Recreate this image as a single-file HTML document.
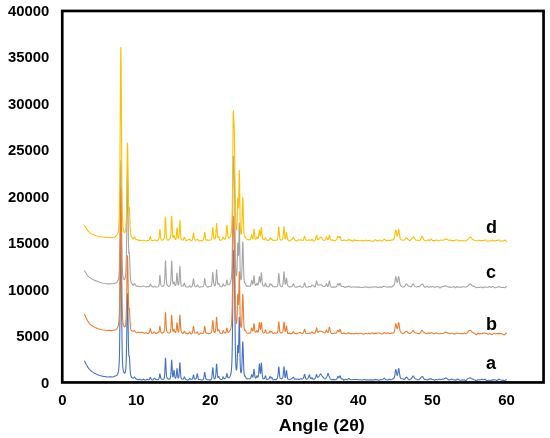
<!DOCTYPE html>
<html><head><meta charset="utf-8"><style>
html,body{margin:0;padding:0;background:#fff;}
svg{display:block;filter:blur(0.3px);}
.t{font-family:"Liberation Sans",Arial,sans-serif;font-weight:bold;fill:#000;}
</style></head><body>
<svg width="550" height="438" viewBox="0 0 550 438">
<rect width="550" height="438" fill="#fff"/>
<g fill="none" stroke-width="1.1" stroke-linejoin="round" stroke-linecap="round">
<path d="M84.51 361.01L86.16 364.24 87.96 367.38 88.81 368.63 89.96 369.90 90.81 370.68 91.91 371.54 93.11 372.38 94.46 373.22 96.11 374.10 98.91 375.25 99.86 375.53 101.76 375.94 103.16 376.36 104.71 376.50 106.61 376.90 107.36 376.94 110.76 376.85 112.21 376.94 112.81 376.91 113.71 376.66 114.96 376.08 116.16 375.65 116.71 375.32 117.16 374.85 117.51 374.29 117.86 373.50 118.16 372.54 118.46 371.19 118.71 369.51 119.06 365.33 119.31 359.58 119.56 349.41 119.96 318.63 120.61 240.08 120.76 229.71 120.86 227.86 120.96 230.47 121.11 241.73 121.66 309.44 121.96 337.40 122.31 356.09 122.51 361.86 122.76 366.14 123.06 369.01 123.41 370.96 123.91 372.55 124.16 372.98 124.41 373.19 124.66 373.18 124.91 372.97 125.16 372.50 125.36 371.88 125.66 370.20 125.91 367.48 126.21 361.16 126.46 351.89 127.26 300.54 127.41 294.78 127.51 293.76 127.61 295.22 127.76 301.48 128.41 343.30 128.56 349.51 128.76 354.48 128.96 356.25 129.06 356.32 129.21 356.08 129.26 356.06 129.31 356.13 129.46 357.12 130.16 370.05 130.36 372.61 130.61 374.65 130.91 375.98 131.26 376.84 131.81 377.60 132.11 377.84 132.46 378.02 133.06 378.15 133.51 378.06 133.81 377.82 134.31 377.12 134.51 377.03 134.71 377.21 135.21 378.09 135.56 378.51 136.66 379.27 137.31 379.58 138.06 379.64 139.21 379.38 139.61 379.37 140.01 379.50 140.91 379.97 141.41 380.05 142.01 379.90 143.06 379.40 143.51 379.32 143.91 379.43 144.81 379.94 145.31 380.03 145.76 379.94 146.86 379.45 147.31 379.35 147.71 379.41 148.61 379.82 149.01 379.79 149.26 379.58 149.46 379.28 150.11 377.63 150.31 377.39 150.51 377.57 151.01 378.73 151.31 379.24 151.76 379.68 152.26 379.94 152.66 379.96 153.06 379.73 153.51 379.25 154.16 378.33 154.46 378.12 154.71 378.28 155.36 379.16 155.71 379.41 157.16 379.74 157.81 379.76 158.21 379.62 158.51 379.41 158.71 379.16 158.91 378.74 159.26 377.30 159.71 374.38 159.81 373.97 159.91 373.83 160.01 374.01 160.11 374.44 160.66 377.72 160.86 378.39 161.06 378.77 161.41 379.04 162.16 379.19 163.11 379.26 163.66 379.12 163.96 378.82 164.21 378.22 164.41 377.21 164.56 375.91 164.86 371.19 165.31 360.24 165.41 358.65 165.51 358.11 165.61 358.73 165.71 360.35 166.21 371.77 166.56 376.01 166.81 377.28 167.11 378.01 167.76 378.80 168.11 379.07 168.41 379.21 168.76 379.26 169.16 379.18 169.56 378.97 169.91 378.66 170.31 377.99 170.61 376.78 170.96 373.16 171.51 361.85 171.61 360.49 171.71 360.08 171.81 360.73 171.91 362.27 172.41 372.84 172.56 374.86 172.76 376.44 172.86 376.81 172.96 376.95 173.06 376.87 173.21 376.36 173.41 375.02 173.81 371.13 173.91 370.49 174.01 370.29 174.11 370.56 174.21 371.25 174.81 376.65 175.06 377.69 175.21 378.00 175.41 378.18 175.61 378.16 175.81 377.92 176.11 376.86 176.36 374.90 176.81 369.57 176.91 368.81 177.01 368.58 177.16 369.33 177.61 374.70 177.91 377.06 178.11 377.78 178.31 378.02 178.51 377.90 178.71 377.42 178.91 376.40 179.11 374.55 179.71 364.18 179.81 363.01 179.91 362.65 180.06 363.79 180.56 373.04 180.86 376.59 181.01 377.58 181.21 378.36 181.46 378.83 181.81 379.06 183.06 379.19 183.41 379.05 183.71 378.58 184.21 377.14 184.41 376.87 184.61 377.11 185.11 378.51 185.46 379.13 185.91 379.47 186.81 379.80 187.76 379.96 188.11 379.92 188.46 379.78 188.86 379.44 189.51 378.40 189.71 378.26 189.91 378.37 190.36 378.98 190.66 379.21 190.96 379.28 192.21 379.25 192.46 379.01 192.71 378.37 193.31 375.28 193.41 374.94 193.51 374.83 193.61 374.97 193.71 375.33 194.16 377.77 194.41 378.69 194.71 379.16 194.91 379.22 195.11 379.18 195.91 378.71 196.11 378.46 196.31 378.05 196.61 376.92 197.11 374.13 197.26 373.76 197.36 373.84 197.51 374.44 198.11 378.17 198.31 378.88 198.56 379.35 198.86 379.52 199.91 379.54 201.51 379.96 201.96 379.99 202.36 379.92 202.86 379.69 203.21 379.41 203.46 379.03 203.66 378.51 204.01 376.75 204.51 372.89 204.61 372.42 204.71 372.27 204.81 372.47 204.91 372.97 205.56 377.60 205.81 378.53 206.06 379.01 206.46 379.35 207.16 379.60 208.51 379.80 209.71 380.12 210.06 380.12 210.36 380.05 210.86 379.75 211.21 379.35 211.51 378.69 211.71 377.91 212.06 375.30 212.61 368.62 212.71 367.89 212.81 367.68 212.91 368.02 213.01 368.85 213.46 374.48 213.76 377.12 213.91 377.89 214.11 378.49 214.36 378.80 214.66 378.82 214.96 378.58 215.21 378.10 215.41 377.39 215.61 376.18 215.91 373.00 216.41 365.31 216.51 364.39 216.61 364.11 216.71 364.53 216.81 365.55 217.46 374.97 217.71 376.77 217.96 377.47 218.06 377.53 218.21 377.42 218.61 376.65 218.71 376.53 218.81 376.52 219.01 376.85 219.51 378.27 219.81 378.74 221.21 379.48 221.61 379.56 221.91 379.43 222.21 379.06 222.51 378.40 222.96 377.09 223.11 376.82 223.21 376.77 223.41 377.02 223.81 378.08 224.06 378.57 224.31 378.78 224.61 378.76 225.61 378.11 225.91 377.70 226.21 376.73 226.71 374.00 226.81 373.65 226.91 373.52 227.01 373.65 227.11 374.01 227.66 376.81 227.96 377.57 228.26 377.82 228.71 377.85 229.16 377.68 229.56 377.31 230.06 376.43 230.51 375.18 230.91 373.56 231.21 371.83 231.46 369.71 231.66 367.12 231.96 360.25 232.21 349.69 232.46 332.64 233.16 261.22 233.31 252.73 233.36 251.35 233.41 250.67 233.46 250.62 233.56 252.01 233.91 261.45 234.21 267.00 234.36 271.72 234.56 283.71 235.31 345.46 235.66 360.64 235.86 365.32 236.06 368.07 236.26 369.51 236.41 369.97 236.51 370.00 236.71 369.30 236.91 367.30 237.16 362.29 237.61 348.27 237.76 345.49 237.81 345.21 237.91 345.68 238.31 352.41 238.36 352.68 238.41 352.66 238.51 351.61 238.76 342.82 239.16 319.97 239.26 317.39 239.31 317.23 239.51 324.00 240.11 360.60 240.36 367.87 240.61 371.19 240.86 372.52 241.01 372.81 241.16 372.81 241.31 372.48 241.41 372.03 241.66 369.80 242.01 362.92 242.61 343.96 242.71 342.21 242.81 341.70 242.91 342.53 243.06 345.93 243.71 366.92 243.91 370.88 244.11 373.44 244.31 374.95 244.56 375.88 244.81 376.17 245.21 376.11 245.41 376.24 246.16 378.25 246.36 378.59 246.61 378.81 246.96 378.86 248.01 378.69 249.66 378.79 250.06 378.72 250.36 378.55 250.61 378.25 250.86 377.69 251.51 375.03 251.71 374.65 251.81 374.72 251.91 374.95 252.46 376.81 252.66 377.07 252.81 377.01 253.01 376.51 253.21 375.46 253.81 369.98 253.91 369.41 254.01 369.24 254.11 369.52 254.21 370.18 254.81 375.87 255.01 377.00 255.26 377.79 255.41 378.03 255.61 378.18 255.81 378.16 255.96 378.03 256.26 377.46 256.71 376.09 256.91 375.79 257.01 375.82 257.11 375.97 257.61 377.09 257.81 377.26 257.96 377.21 258.11 376.95 258.26 376.45 258.56 374.35 259.16 365.76 259.36 363.97 259.41 363.91 259.46 364.02 259.56 364.71 260.11 372.11 260.26 373.21 260.36 373.50 260.41 373.51 260.51 373.25 260.66 372.18 261.21 364.25 261.31 363.32 261.41 363.05 261.51 363.51 261.61 364.60 262.06 372.12 262.31 375.25 262.61 377.37 262.81 378.09 263.06 378.57 263.31 378.79 263.66 378.85 264.06 378.72 264.36 378.48 264.71 377.89 265.26 376.22 265.46 375.91 265.56 375.97 265.66 376.19 266.36 378.69 266.61 379.13 266.86 379.35 267.26 379.44 267.76 379.37 268.36 379.17 268.81 378.88 269.21 378.38 269.86 376.82 270.01 376.59 270.11 376.56 270.31 376.83 270.71 377.79 270.91 378.04 271.01 378.06 271.16 377.97 271.61 377.38 271.71 377.36 271.81 377.43 272.71 379.27 273.11 379.71 273.51 379.87 273.81 379.81 274.51 379.38 274.86 379.28 275.16 379.37 275.86 379.79 276.21 379.77 276.66 379.26 277.31 377.97 277.66 376.90 277.91 375.51 278.16 373.21 278.61 367.81 278.71 367.11 278.81 366.93 279.01 368.17 279.61 375.44 279.81 376.86 280.01 377.70 280.36 378.38 280.66 378.61 281.01 378.75 281.41 378.81 281.81 378.76 282.16 378.60 282.41 378.39 282.76 377.69 283.06 376.24 283.31 374.00 283.81 367.73 283.91 366.99 284.01 366.78 284.11 367.15 284.21 368.02 284.81 375.47 284.96 376.59 285.16 377.42 285.26 377.58 285.41 377.51 285.66 376.62 286.31 371.19 286.41 370.66 286.51 370.49 286.61 370.73 286.71 371.34 287.36 377.08 287.56 378.11 287.76 378.75 287.96 379.09 288.26 379.29 289.26 379.23 290.21 379.43 290.66 379.32 291.61 378.59 292.41 378.25 292.71 377.95 293.16 377.29 293.36 377.18 293.61 377.43 294.26 378.81 294.46 379.05 294.71 379.19 295.81 379.05 297.01 379.26 298.06 379.08 298.36 379.16 298.96 379.52 299.21 379.57 299.46 379.49 300.01 378.96 300.36 378.81 300.96 378.81 301.96 379.10 302.31 379.06 302.61 378.89 302.96 378.57 303.46 377.83 303.81 376.89 304.36 374.72 304.56 374.36 304.66 374.43 304.81 374.84 305.31 377.24 305.56 378.16 305.86 378.82 306.16 379.12 306.51 379.18 306.96 379.04 307.51 378.67 307.96 378.20 308.46 377.25 309.16 375.11 309.36 374.89 309.46 374.97 309.61 375.33 310.26 377.83 310.46 378.31 310.66 378.58 310.86 378.68 311.06 378.61 311.71 377.86 311.91 377.77 312.11 377.91 312.66 378.75 312.96 379.07 313.31 379.25 313.71 379.27 314.11 379.11 314.96 378.50 315.26 378.24 315.46 377.96 315.76 377.18 316.26 374.99 316.46 374.44 316.56 374.42 316.71 374.71 317.11 376.20 317.36 376.87 317.56 377.13 317.81 377.19 318.41 376.93 318.91 376.50 319.26 375.99 320.06 374.49 320.31 374.19 320.56 374.07 320.81 374.14 321.11 374.44 322.01 375.81 324.01 378.42 324.46 378.77 324.96 378.83 325.36 378.68 325.76 378.34 326.86 376.77 327.21 375.89 327.76 373.86 327.91 373.53 328.01 373.45 328.21 373.68 328.81 375.53 329.41 376.67 329.96 378.18 330.26 378.81 330.51 379.13 330.81 379.34 331.26 379.50 331.81 379.61 332.26 379.60 333.41 379.39 335.16 379.68 335.66 379.65 336.11 379.52 336.51 379.25 336.86 378.81 337.86 376.58 337.96 376.51 338.11 376.57 338.66 377.56 338.81 377.71 338.96 377.72 339.21 377.42 339.76 375.98 339.96 375.73 340.06 375.76 340.21 376.01 340.86 378.09 341.21 378.78 341.36 378.92 341.56 378.99 342.21 378.87 342.51 378.93 342.81 379.18 343.51 380.00 343.86 380.18 344.16 380.09 344.96 379.40 345.31 379.26 345.71 379.32 346.66 379.73 347.01 379.77 347.31 379.72 347.76 379.43 348.51 378.56 348.81 378.42 349.06 378.53 349.76 379.15 350.26 379.48 350.91 379.73 351.51 379.83 353.31 379.55 355.26 379.56 356.81 379.43 359.11 379.76 360.66 379.81 361.91 380.02 362.46 379.96 363.71 379.57 364.31 379.48 364.71 379.54 365.61 379.88 365.96 379.95 367.21 379.79 368.56 380.00 369.96 379.74 371.16 379.86 372.36 379.81 373.46 379.95 373.91 379.86 374.81 379.43 375.16 379.37 376.36 379.66 377.51 379.71 378.51 380.15 378.91 380.22 379.21 380.15 380.01 379.72 380.36 379.61 380.76 379.63 381.71 379.81 382.36 379.72 382.91 379.37 383.86 378.35 384.21 378.18 384.56 378.32 385.41 379.44 385.66 379.65 385.91 379.74 386.76 379.76 387.56 379.99 387.91 380.01 388.26 379.86 389.11 379.22 389.46 379.12 389.81 379.20 390.71 379.64 391.21 379.69 391.86 379.47 393.01 378.64 393.81 378.37 394.01 378.19 394.21 377.85 394.46 377.12 394.66 376.21 395.46 370.69 395.61 369.91 395.76 369.50 395.81 369.47 395.91 369.56 396.06 370.05 396.86 374.74 397.11 375.40 397.21 375.46 397.31 375.39 397.51 374.91 397.71 374.00 398.41 369.29 398.56 368.69 398.71 368.52 398.86 368.84 399.01 369.57 399.91 375.96 400.16 377.07 400.46 377.92 400.76 378.38 401.11 378.62 402.41 378.77 403.66 379.28 404.06 379.38 404.46 379.34 404.86 379.09 405.21 378.67 406.06 377.35 406.31 377.12 406.51 377.07 406.71 377.14 406.91 377.32 408.01 378.92 408.61 379.49 408.96 379.64 409.31 379.66 410.41 379.37 410.91 379.11 411.31 378.73 411.71 378.13 412.61 376.40 412.86 376.10 413.11 375.99 413.31 376.06 413.51 376.28 414.46 377.95 414.76 378.33 415.11 378.64 415.96 379.06 417.71 379.67 418.36 379.80 418.86 379.73 419.31 379.48 420.56 378.04 421.66 376.90 422.01 376.59 422.26 376.51 422.51 376.59 422.81 376.90 423.91 378.80 424.41 379.38 424.81 379.54 425.81 379.56 426.61 379.86 426.96 379.93 427.36 379.85 428.36 379.39 429.36 379.16 430.21 378.68 430.51 378.60 430.91 378.72 431.66 379.27 432.06 379.48 432.41 379.56 433.41 379.63 434.36 380.07 434.66 380.14 435.01 380.08 435.81 379.58 436.16 379.45 436.46 379.48 437.21 379.76 437.51 379.81 437.91 379.73 438.86 379.35 439.36 379.25 439.86 379.27 440.81 379.49 441.26 379.52 442.56 379.06 443.56 379.18 443.91 379.15 444.31 378.94 445.26 378.18 445.61 378.03 445.91 378.00 446.31 378.09 446.76 378.31 448.51 379.70 448.86 379.90 449.16 379.98 449.66 379.91 450.91 379.29 451.56 379.15 452.01 379.24 453.11 379.71 454.26 379.81 455.26 380.10 455.66 380.12 456.21 379.93 457.26 379.22 457.66 379.12 458.16 379.25 459.36 380.03 459.96 380.24 460.66 380.23 462.11 379.79 463.36 379.93 464.36 379.84 464.71 379.91 465.56 380.43 465.91 380.51 466.11 380.45 466.36 380.25 467.21 379.21 467.61 378.86 468.61 378.37 469.46 377.87 469.91 377.75 470.36 377.88 471.36 378.56 472.51 379.03 473.76 379.78 475.01 380.08 475.91 380.45 476.26 380.52 476.71 380.43 477.56 379.95 477.96 379.80 478.41 379.78 479.51 379.91 480.06 379.90 480.51 379.79 481.46 379.40 481.91 379.33 483.71 379.63 484.11 379.58 484.86 379.33 485.21 379.33 485.61 379.54 486.61 380.55 486.86 380.69 487.11 380.73 487.46 380.66 488.31 380.32 488.81 380.23 489.36 380.27 490.31 380.52 490.66 380.52 491.01 380.40 491.91 379.89 492.41 379.79 493.56 379.90 494.96 379.80 495.41 379.82 495.91 379.98 496.76 380.48 497.11 380.54 497.56 380.29 498.51 379.27 498.96 379.10 499.36 379.20 500.36 379.71 501.21 380.06 502.31 380.37 503.61 380.28 504.91 380.44 505.26 380.34 506.06 379.89 506.46 379.75" stroke="#4472C4"/>
<path d="M84.51 270.89L87.21 274.96 87.86 275.85 88.66 276.67 90.21 277.88 93.41 279.72 94.21 280.12 96.71 281.14 98.11 281.56 99.41 282.18 100.76 282.53 102.11 283.04 104.66 283.49 108.01 283.84 112.21 283.72 113.41 283.55 115.46 283.10 115.96 282.90 116.36 282.65 116.91 282.12 117.46 281.39 117.91 280.60 118.21 279.86 118.51 278.75 118.71 277.64 119.06 274.15 119.31 269.30 119.56 260.76 119.96 235.14 120.61 170.27 120.76 161.77 120.86 160.31 120.96 162.52 121.11 171.93 121.76 236.96 122.16 261.43 122.41 269.32 122.76 274.83 122.96 276.46 123.21 277.76 123.51 278.74 123.86 279.39 124.06 279.57 124.26 279.61 124.51 279.48 124.71 279.24 125.11 278.29 125.41 276.97 125.61 275.50 125.81 273.16 126.11 266.64 126.51 248.07 127.26 184.01 127.41 176.40 127.51 174.98 127.61 176.78 127.76 184.77 128.41 238.40 128.71 251.02 128.81 252.77 128.91 253.50 128.96 253.56 129.01 253.45 129.21 252.39 129.31 252.23 129.46 253.48 130.16 272.77 130.36 276.56 130.61 279.49 130.86 281.13 131.26 282.53 131.91 283.86 132.71 285.01 133.16 285.34 133.36 285.34 133.51 285.26 133.81 284.84 134.31 283.63 134.51 283.41 134.71 283.59 135.21 284.70 135.56 285.23 136.51 286.04 137.06 286.35 137.46 286.39 138.51 286.22 139.96 286.64 141.01 286.68 141.96 286.55 143.16 286.07 143.61 286.00 144.11 286.12 145.36 286.74 145.76 286.84 146.16 286.85 147.51 286.54 148.81 286.66 149.16 286.56 149.51 286.10 150.11 284.32 150.26 284.04 150.36 284.01 150.51 284.20 151.01 285.48 151.31 286.00 151.96 286.57 152.81 287.08 153.21 287.15 153.56 287.06 153.86 286.82 154.31 286.30 154.51 286.19 154.71 286.25 155.41 286.82 155.96 286.99 156.71 286.99 158.26 286.67 158.51 286.51 158.71 286.19 159.01 284.94 159.26 282.70 159.71 276.62 159.81 275.72 159.91 275.39 160.01 275.70 160.11 276.56 160.66 283.13 160.81 284.22 161.01 285.13 161.16 285.52 161.36 285.83 161.91 286.22 162.31 286.36 162.66 286.40 162.96 286.35 163.26 286.18 163.71 285.67 164.06 284.91 164.31 283.80 164.51 282.11 164.86 275.96 165.31 263.12 165.41 261.29 165.51 260.71 165.61 261.53 165.71 263.54 166.21 277.48 166.56 282.68 166.81 284.25 167.11 285.12 167.61 285.79 167.96 286.07 168.31 286.25 168.71 286.35 169.11 286.31 169.46 286.15 169.76 285.86 170.06 285.38 170.26 284.87 170.56 283.41 170.76 281.46 170.96 278.19 171.51 263.31 171.61 261.51 171.71 260.93 171.81 261.73 171.91 263.69 172.46 278.36 172.61 280.78 172.81 282.75 173.01 283.67 173.11 283.85 173.26 283.86 173.46 283.46 173.86 282.10 174.01 281.96 174.21 282.47 174.76 284.82 174.96 285.26 175.21 285.49 175.36 285.50 175.51 285.43 175.76 285.07 175.96 284.39 176.11 283.50 176.36 281.01 176.81 274.33 176.91 273.38 177.01 273.09 177.16 273.99 177.61 280.65 177.91 283.66 178.11 284.64 178.31 285.03 178.41 285.05 178.51 284.98 178.71 284.47 178.91 283.26 179.11 281.01 179.71 268.21 179.81 266.75 179.91 266.29 180.01 266.96 180.11 268.58 180.51 277.92 180.81 282.69 180.96 284.05 181.16 285.11 181.41 285.75 181.76 286.05 182.11 286.10 182.66 286.00 183.06 285.86 183.31 285.66 183.61 285.15 184.16 283.44 184.36 283.12 184.46 283.18 184.61 283.55 185.06 285.35 185.31 286.10 185.56 286.54 185.91 286.83 186.36 286.97 187.16 287.06 187.91 287.06 188.41 286.97 188.86 286.67 189.51 285.72 189.71 285.60 189.91 285.74 190.41 286.53 190.76 286.88 191.16 287.02 191.61 286.90 191.86 286.68 192.11 286.31 192.51 285.11 192.81 283.37 193.31 279.42 193.41 278.97 193.51 278.85 193.71 279.63 194.16 283.33 194.41 284.87 194.71 285.92 194.91 286.28 195.11 286.50 195.41 286.70 195.81 286.85 196.06 286.86 196.31 286.75 196.66 286.26 197.16 285.07 197.36 284.86 197.56 284.99 198.16 285.91 198.76 286.66 199.21 287.11 199.51 287.28 199.91 287.26 200.71 286.82 201.01 286.71 202.21 286.73 202.81 286.63 203.16 286.45 203.41 286.17 203.61 285.72 203.76 285.17 204.06 283.29 204.51 279.31 204.61 278.76 204.71 278.56 204.81 278.75 204.91 279.28 205.36 282.98 205.61 284.46 205.91 285.43 206.31 286.07 207.06 286.89 207.31 287.06 207.61 287.14 208.06 287.07 209.41 286.51 210.51 286.38 210.81 286.29 211.16 285.99 211.41 285.51 211.61 284.79 211.81 283.62 212.11 280.60 212.61 273.43 212.71 272.59 212.81 272.33 212.91 272.72 213.01 273.67 213.51 280.84 213.81 283.66 214.01 284.68 214.21 285.25 214.51 285.61 214.81 285.63 215.11 285.32 215.31 284.81 215.51 283.85 215.66 282.69 215.91 279.68 216.41 271.21 216.51 270.20 216.61 269.88 216.71 270.33 216.81 271.44 217.46 281.68 217.71 283.59 217.81 283.99 217.96 284.30 218.06 284.33 218.16 284.26 218.61 283.36 218.71 283.24 218.81 283.23 219.01 283.59 219.56 285.37 219.86 285.95 220.36 286.39 221.21 286.74 221.51 286.76 221.76 286.70 222.16 286.35 222.46 285.78 223.01 284.21 223.21 283.96 223.41 284.16 223.91 285.35 224.26 285.84 224.71 286.02 225.41 285.93 225.76 285.60 226.06 284.77 226.71 280.77 226.91 280.15 227.01 280.25 227.11 280.60 227.61 283.34 227.91 284.29 228.16 284.64 228.46 284.80 228.86 284.83 229.21 284.68 229.46 284.41 229.71 283.98 230.26 282.61 230.91 280.50 231.26 278.83 231.46 277.30 231.66 274.90 231.96 268.13 232.21 257.41 232.46 239.97 233.16 167.11 233.31 158.46 233.36 157.06 233.41 156.37 233.46 156.32 233.61 158.99 233.91 167.48 234.21 173.29 234.36 178.15 234.56 190.32 235.31 252.15 235.66 267.02 235.86 271.52 236.06 274.13 236.26 275.46 236.41 275.82 236.51 275.76 236.71 274.74 236.91 272.06 237.16 265.47 237.61 247.00 237.76 243.39 237.81 243.06 237.86 243.21 237.96 244.76 238.36 254.98 238.46 255.46 238.56 254.43 238.76 247.66 239.16 225.56 239.26 223.09 239.31 223.00 239.51 230.11 240.11 267.72 240.36 275.14 240.61 278.47 240.86 279.67 241.01 279.83 241.16 279.63 241.41 278.38 241.66 275.42 242.01 266.92 242.56 245.89 242.71 242.42 242.81 241.89 242.91 242.94 243.06 247.07 243.71 272.23 243.91 276.93 244.11 279.93 244.31 281.67 244.56 282.71 244.76 283.01 245.21 283.11 245.36 283.27 245.56 283.78 246.16 285.85 246.36 286.25 246.56 286.43 246.86 286.44 247.56 286.03 247.86 285.95 248.21 285.98 249.11 286.28 249.56 286.35 249.96 286.29 250.31 286.04 250.56 285.62 250.81 284.87 251.51 280.90 251.61 280.53 251.71 280.38 251.81 280.49 251.91 280.83 252.51 283.76 252.71 284.14 252.86 284.09 253.06 283.51 253.21 282.63 253.81 276.48 253.91 275.84 254.01 275.66 254.21 276.78 254.81 283.28 255.01 284.50 255.21 285.18 255.36 285.44 255.56 285.59 255.76 285.57 255.96 285.40 256.26 284.80 256.71 283.43 256.91 283.15 257.11 283.35 257.66 284.67 257.86 284.89 258.06 284.88 258.31 284.43 258.56 283.30 259.16 277.75 259.36 276.57 259.41 276.53 259.46 276.59 259.56 277.04 260.16 281.94 260.31 282.33 260.46 282.10 260.76 279.76 261.21 273.75 261.31 272.94 261.41 272.71 261.51 273.11 261.61 274.08 262.06 280.58 262.36 283.60 262.51 284.50 262.71 285.24 262.96 285.72 263.26 286.00 263.66 286.21 264.01 286.29 264.26 286.24 264.46 286.06 264.81 285.27 265.31 283.34 265.41 283.10 265.51 283.03 265.71 283.39 266.21 285.27 266.51 285.96 266.81 286.26 268.06 286.94 268.31 286.96 268.51 286.89 268.76 286.68 268.96 286.41 269.31 285.65 269.86 283.96 270.01 283.68 270.11 283.62 270.26 283.76 270.71 284.80 270.91 285.07 271.11 285.09 271.56 284.64 271.66 284.61 271.76 284.66 272.51 286.21 272.76 286.54 273.06 286.74 273.61 286.80 274.91 286.47 276.36 286.79 276.76 286.75 277.06 286.60 277.31 286.31 277.51 285.87 277.86 284.11 278.11 281.64 278.61 274.65 278.71 273.81 278.81 273.53 278.91 273.88 279.01 274.77 279.61 282.66 279.96 285.03 280.21 285.78 280.61 286.30 280.91 286.48 281.26 286.59 281.86 286.54 282.26 286.28 282.56 285.81 282.76 285.21 282.96 284.16 283.31 280.68 283.81 273.06 283.91 272.14 284.01 271.82 284.11 272.19 284.21 273.15 284.81 281.59 285.01 283.22 285.21 284.08 285.31 284.26 285.41 284.28 285.56 284.02 285.66 283.66 285.86 282.49 286.31 278.76 286.41 278.26 286.51 278.12 286.71 278.97 287.26 283.65 287.61 285.22 287.91 285.76 288.41 286.23 289.11 286.74 289.61 286.88 291.41 286.59 292.01 286.32 292.46 285.73 293.11 284.12 293.36 283.80 293.46 283.84 293.61 284.08 294.41 286.26 294.71 286.68 295.11 286.92 296.26 287.15 296.86 287.15 297.21 287.04 298.16 286.56 299.11 286.42 299.96 286.06 300.21 286.16 300.86 286.77 301.36 287.07 302.01 287.21 302.61 287.15 303.16 286.88 303.56 286.29 303.86 285.41 304.36 283.31 304.51 282.91 304.61 282.85 304.81 283.23 305.31 285.38 305.61 286.33 305.91 286.85 306.36 287.17 306.91 287.28 307.41 287.21 308.76 286.47 309.16 286.34 309.46 286.37 310.21 286.77 310.61 286.74 311.01 286.41 311.71 285.20 311.96 284.99 312.16 285.07 312.81 285.71 313.71 286.12 314.66 286.95 314.86 287.05 315.01 287.05 315.16 286.95 315.31 286.72 315.56 285.98 316.31 281.64 316.46 281.11 316.56 281.03 316.76 281.46 317.41 284.19 317.66 284.74 317.96 285.04 318.46 285.12 320.11 284.99 320.96 284.84 321.36 284.86 321.86 285.10 322.81 286.00 323.26 286.30 323.86 286.44 324.81 286.40 325.21 286.24 325.51 285.92 325.81 285.27 326.26 283.94 326.41 283.68 326.51 283.65 326.71 283.99 327.36 286.01 327.61 286.39 327.86 286.46 328.16 286.18 328.46 285.38 329.16 281.59 329.31 281.05 329.41 280.95 329.61 281.46 330.21 284.92 330.56 286.19 330.76 286.60 331.01 286.91 331.36 287.13 331.76 287.23 332.26 287.20 333.46 286.88 335.16 287.08 335.61 287.04 335.96 286.92 336.41 286.60 336.81 286.08 337.66 284.14 337.86 283.82 337.96 283.78 338.11 283.87 338.66 285.01 338.81 285.20 338.96 285.23 339.21 284.97 339.76 283.52 339.91 283.27 340.01 283.22 340.11 283.28 340.26 283.55 341.01 285.69 341.41 286.25 341.86 286.43 342.96 286.35 343.46 286.43 343.86 286.65 344.71 287.40 345.06 287.53 345.41 287.42 346.11 286.83 346.41 286.67 346.71 286.67 347.41 286.92 347.71 286.90 348.01 286.70 348.56 286.13 348.81 286.04 349.06 286.15 349.76 286.80 350.16 287.08 350.61 287.26 351.06 287.33 351.61 287.27 352.66 286.90 353.16 286.83 354.61 287.07 355.56 287.14 357.56 287.13 359.41 287.00 361.31 287.45 362.16 287.52 362.91 287.40 364.11 286.95 364.61 286.86 366.06 287.24 367.46 287.09 368.06 287.11 368.51 287.24 369.36 287.63 369.71 287.69 370.11 287.58 371.16 287.00 371.51 286.98 372.46 287.08 373.76 286.79 374.96 286.98 376.21 286.86 376.56 286.99 377.41 287.51 377.81 287.60 378.26 287.50 379.36 286.91 379.86 286.78 380.26 286.88 381.06 287.50 381.41 287.64 381.61 287.59 381.81 287.45 382.71 286.51 383.11 286.37 383.91 286.49 384.76 286.46 385.91 286.95 386.46 287.07 386.91 287.05 387.96 286.86 389.21 286.88 390.36 286.72 391.66 287.05 392.06 286.88 393.11 285.72 393.91 285.18 394.11 284.92 394.31 284.50 394.71 282.93 395.46 277.87 395.61 277.11 395.76 276.71 395.81 276.68 395.91 276.77 396.06 277.24 396.86 281.76 397.06 282.33 397.21 282.48 397.31 282.44 397.41 282.30 397.61 281.71 398.36 277.43 398.51 276.82 398.66 276.58 398.81 276.78 398.96 277.40 399.76 282.89 400.01 284.10 400.31 285.04 400.61 285.56 401.06 285.97 402.26 286.80 402.66 286.98 403.06 287.06 403.46 287.05 403.81 286.97 404.16 286.79 404.46 286.54 404.96 285.90 405.91 284.22 406.16 283.94 406.36 283.85 406.56 283.91 406.76 284.09 407.56 285.32 408.01 285.79 409.06 286.26 410.06 286.81 410.56 286.97 411.01 286.90 411.41 286.58 411.81 285.98 412.66 284.36 412.86 284.10 413.06 283.97 413.26 283.98 413.51 284.19 414.41 285.73 414.96 286.41 415.61 286.84 416.26 287.00 416.66 286.95 417.46 286.62 417.81 286.54 418.11 286.56 418.86 286.79 419.26 286.75 419.66 286.45 420.71 285.30 421.96 284.24 422.31 284.11 422.61 284.23 422.91 284.56 423.86 286.18 424.26 286.75 424.56 287.02 424.91 287.17 425.21 287.18 425.51 287.10 426.51 286.48 426.91 286.37 427.31 286.49 428.21 287.14 428.56 287.23 428.91 287.18 429.76 286.77 430.26 286.65 431.31 286.85 432.31 286.62 432.76 286.61 433.26 286.72 434.31 287.09 434.76 287.15 435.16 287.10 436.21 286.78 438.21 286.60 438.71 286.79 439.61 287.74 440.01 287.95 440.41 287.78 441.21 286.95 441.61 286.68 442.01 286.58 442.86 286.56 443.41 286.47 444.91 285.88 445.36 285.79 445.96 285.89 448.51 286.93 449.21 287.11 450.46 287.08 451.66 287.19 452.21 287.17 452.81 287.04 453.71 286.64 454.11 286.61 454.46 286.80 455.26 287.62 455.61 287.77 455.96 287.62 456.76 286.76 457.11 286.59 457.41 286.65 458.16 287.20 458.51 287.30 459.81 287.01 461.16 287.20 461.76 287.19 462.16 287.10 463.06 286.76 463.41 286.70 463.81 286.75 464.81 287.06 465.56 287.05 466.61 286.86 467.21 286.59 467.71 286.17 468.71 285.04 469.21 284.57 469.71 284.24 470.21 284.12 470.56 284.19 470.96 284.43 472.06 285.61 472.51 285.96 472.86 286.08 473.71 286.12 474.16 286.25 474.71 286.58 475.81 287.44 476.11 287.59 476.41 287.66 476.71 287.62 477.76 287.25 478.11 287.28 478.96 287.49 479.41 287.48 480.76 287.02 481.21 286.94 481.66 287.06 482.51 287.69 482.91 287.82 483.26 287.69 484.06 287.01 484.41 286.85 484.86 286.88 485.56 287.22 485.91 287.31 487.56 287.32 488.06 287.22 488.96 286.69 489.31 286.60 489.71 286.72 490.56 287.31 490.91 287.38 491.36 287.25 492.36 286.65 492.86 286.52 493.36 286.66 494.41 287.61 494.86 287.80 495.21 287.76 496.06 287.50 497.16 287.32 498.41 286.68 498.86 286.57 499.31 286.65 500.46 287.20 501.11 287.40 501.81 287.45 503.36 287.34 504.71 287.70 504.96 287.65 505.16 287.53 506.06 286.71 506.26 286.62 506.46 286.63" stroke="#A5A5A5"/>
<path d="M84.51 314.27L85.81 317.30 87.71 321.08 88.61 322.53 89.76 323.88 90.66 324.71 92.86 326.31 94.16 326.91 95.61 327.85 96.91 328.28 98.21 328.81 101.71 329.71 103.26 330.02 105.26 330.21 107.21 330.48 109.51 330.40 111.01 330.63 111.66 330.63 113.61 330.16 115.16 329.97 115.66 329.79 116.11 329.53 116.71 329.00 117.26 328.24 117.71 327.33 118.11 326.17 118.41 324.93 118.66 323.45 118.86 321.73 119.06 319.14 119.31 313.70 119.56 304.07 119.96 274.86 120.61 200.17 120.76 190.33 120.86 188.60 120.96 191.11 121.11 201.88 121.66 266.57 122.01 296.66 122.36 312.79 122.56 317.67 122.86 321.76 123.16 323.90 123.56 325.46 123.81 326.07 124.06 326.48 124.36 326.79 124.66 326.89 124.91 326.80 125.11 326.59 125.46 325.69 125.71 324.28 125.96 321.58 126.21 316.63 126.46 308.31 127.26 261.98 127.41 256.72 127.51 255.73 127.61 256.96 127.76 262.44 128.31 294.63 128.61 305.84 128.71 307.81 128.86 309.26 128.96 309.41 129.21 308.49 129.31 308.36 129.46 309.27 130.11 322.44 130.31 325.46 130.51 327.47 130.71 328.71 130.91 329.46 131.21 330.10 131.56 330.51 132.26 330.92 133.01 331.17 133.41 331.25 133.76 331.11 134.31 330.46 134.51 330.41 134.71 330.63 135.16 331.52 135.46 331.94 136.01 332.37 136.71 332.76 137.01 332.83 137.26 332.80 138.16 332.31 138.51 332.20 138.86 332.23 139.76 332.54 140.31 332.63 140.81 332.59 141.76 332.35 142.16 332.32 142.61 332.43 143.66 333.01 144.21 333.19 144.81 333.17 145.76 332.81 146.11 332.75 146.51 332.87 147.46 333.41 147.76 333.45 148.06 333.40 148.86 332.98 149.26 332.46 149.61 331.40 150.11 329.02 150.21 328.73 150.31 328.63 150.41 328.74 150.51 329.05 150.96 331.18 151.21 332.07 151.46 332.62 151.81 333.04 152.36 333.32 152.61 333.33 152.86 333.26 153.36 332.87 154.16 331.95 154.41 331.83 154.66 332.01 155.21 332.92 155.51 333.26 155.91 333.46 156.31 333.44 156.71 333.25 157.66 332.53 157.96 332.43 158.56 332.43 158.71 332.35 158.86 332.15 159.06 331.57 159.21 330.84 159.71 327.01 159.81 326.49 159.91 326.30 160.01 326.49 160.11 327.01 160.71 331.28 160.91 332.07 161.16 332.64 161.56 333.04 162.01 333.14 162.51 332.97 163.61 332.33 163.96 331.99 164.21 331.44 164.41 330.53 164.56 329.33 164.86 324.91 165.31 314.48 165.41 312.99 165.51 312.51 165.61 313.17 165.71 314.79 166.21 326.02 166.51 329.73 166.71 330.92 167.01 331.76 167.61 332.55 167.96 332.86 168.26 333.02 168.56 333.06 168.91 332.98 170.06 332.40 170.36 331.97 170.61 331.06 170.81 329.54 170.96 327.72 171.51 316.99 171.61 315.66 171.71 315.22 171.81 315.75 171.91 317.13 172.51 328.19 172.71 330.09 172.96 331.21 173.11 331.41 173.21 331.38 173.31 331.24 173.81 329.53 173.91 329.28 174.01 329.22 174.16 329.50 174.61 331.41 174.91 332.20 175.11 332.42 175.31 332.46 175.56 332.32 175.76 332.04 176.01 331.29 176.21 330.14 176.81 323.70 176.91 322.97 177.01 322.75 177.11 323.09 177.21 323.92 177.61 328.62 177.86 330.64 178.16 331.75 178.36 331.94 178.56 331.79 178.71 331.43 178.86 330.73 179.11 328.43 179.71 316.83 179.81 315.48 179.91 315.03 180.01 315.61 180.11 317.05 180.61 326.93 180.91 330.12 181.11 331.12 181.41 331.84 182.26 333.07 182.51 333.32 182.76 333.46 183.11 333.44 183.46 333.10 183.71 332.61 184.21 331.30 184.41 331.10 184.61 331.33 185.11 332.56 185.41 332.96 185.66 333.08 186.51 333.18 187.56 333.90 187.91 333.92 188.31 333.64 188.71 333.13 189.36 332.03 189.61 331.80 189.71 331.82 189.86 331.99 190.41 333.17 190.76 333.67 191.16 333.90 191.41 333.89 191.61 333.80 191.86 333.57 192.11 333.19 192.46 332.23 192.76 330.76 193.31 326.95 193.41 326.57 193.51 326.48 193.71 327.22 194.36 331.67 194.61 332.49 194.86 332.84 195.16 332.95 196.06 333.00 196.31 332.96 196.61 332.73 197.11 331.98 197.31 331.89 197.51 332.15 198.01 333.31 198.31 333.81 198.71 334.20 199.16 334.36 199.41 334.32 199.61 334.21 200.56 333.24 200.96 333.02 201.36 333.04 202.36 333.43 203.01 333.41 203.26 333.27 203.46 333.02 203.76 332.19 204.06 330.48 204.51 326.88 204.61 326.40 204.71 326.25 204.81 326.46 204.91 326.99 205.51 331.52 205.76 332.54 206.01 333.02 206.31 333.20 207.36 333.26 208.71 333.63 209.31 333.57 210.61 333.19 211.01 332.95 211.31 332.58 211.56 331.97 211.76 331.07 212.11 328.08 212.61 321.57 212.71 320.80 212.81 320.57 212.91 320.93 213.01 321.81 213.51 328.38 213.81 330.92 214.01 331.82 214.21 332.29 214.46 332.52 214.76 332.51 215.06 332.24 215.26 331.82 215.46 331.03 215.61 330.06 215.91 326.76 216.41 318.61 216.51 317.63 216.61 317.33 216.71 317.76 216.81 318.84 217.46 328.67 217.66 330.20 217.91 330.99 218.01 331.04 218.16 330.91 218.61 329.84 218.71 329.69 218.81 329.66 219.01 329.99 219.61 331.91 219.96 332.57 220.31 332.94 220.81 333.31 221.26 333.52 221.61 333.57 221.96 333.41 222.26 333.04 222.56 332.33 223.01 330.90 223.16 330.61 223.26 330.55 223.46 330.76 223.96 331.83 224.36 332.41 224.96 332.97 225.21 333.09 225.41 333.10 225.71 332.83 226.01 332.08 226.71 328.46 226.81 328.13 226.91 328.03 227.11 328.51 227.61 331.15 227.91 332.14 228.11 332.44 228.31 332.51 228.56 332.40 228.86 332.09 229.81 330.78 230.26 330.01 230.66 328.99 231.01 327.63 231.31 325.85 231.56 323.53 231.91 317.29 232.21 306.28 232.46 290.75 233.16 225.98 233.31 218.34 233.36 217.12 233.41 216.54 233.46 216.53 233.56 217.86 233.91 226.69 234.21 231.87 234.36 236.20 234.56 247.09 235.31 302.32 235.66 315.53 235.86 319.52 236.06 321.85 236.26 323.08 236.41 323.43 236.51 323.41 236.71 322.57 236.91 320.26 237.16 314.43 237.61 297.95 237.76 294.69 237.81 294.37 237.91 294.97 238.31 303.74 238.41 304.53 238.51 303.98 238.76 296.18 239.16 274.33 239.26 271.87 239.31 271.75 239.51 278.54 240.11 314.94 240.36 322.24 240.66 326.02 240.91 327.13 241.06 327.29 241.21 327.13 241.46 325.93 241.66 323.79 242.01 316.42 242.61 296.68 242.71 294.88 242.81 294.37 242.91 295.25 243.06 298.79 243.71 320.70 243.96 325.69 244.21 328.54 244.41 329.75 244.66 330.44 244.86 330.55 245.26 330.31 245.46 330.38 246.11 331.82 246.41 332.35 246.86 332.87 247.41 333.25 247.86 333.31 248.91 333.05 249.91 333.23 250.16 333.16 250.36 332.98 250.61 332.54 250.81 331.95 251.51 328.45 251.71 327.99 251.81 328.07 251.91 328.33 252.51 330.74 252.71 331.05 252.86 331.01 253.06 330.50 253.21 329.73 253.81 324.38 253.91 323.81 254.01 323.65 254.21 324.61 254.81 330.23 255.01 331.30 255.21 331.90 255.36 332.15 255.56 332.32 255.76 332.35 255.96 332.24 256.26 331.76 256.71 330.56 256.91 330.34 257.11 330.59 257.66 331.97 257.86 332.18 258.01 332.16 258.16 331.97 258.31 331.57 258.56 330.26 259.16 323.97 259.36 322.63 259.41 322.57 259.46 322.64 259.56 323.12 260.11 328.39 260.26 329.18 260.41 329.42 260.51 329.25 260.66 328.55 261.21 323.29 261.31 322.68 261.41 322.53 261.61 323.66 262.06 328.83 262.31 330.89 262.61 332.20 262.81 332.60 263.01 332.79 263.36 332.92 263.81 332.94 264.16 332.84 264.41 332.63 264.76 331.94 265.31 330.05 265.41 329.85 265.51 329.79 265.71 330.14 266.16 331.81 266.41 332.51 266.71 332.97 267.06 333.18 267.36 333.21 267.81 333.16 268.66 333.00 269.01 332.84 269.31 332.47 269.91 331.08 270.11 330.88 270.31 331.09 270.71 331.93 270.91 332.13 271.01 332.14 271.16 332.05 271.56 331.55 271.66 331.50 271.76 331.54 272.51 333.00 272.71 333.24 272.96 333.39 273.21 333.43 273.51 333.39 274.46 332.96 274.86 332.86 275.21 332.92 276.16 333.29 276.71 333.23 277.11 332.99 277.41 332.60 277.61 332.10 277.81 331.22 278.11 328.83 278.61 322.87 278.71 322.16 278.81 321.94 278.91 322.27 279.01 323.08 279.66 330.43 279.91 331.85 280.06 332.33 280.26 332.68 280.46 332.85 280.76 332.93 281.11 332.90 281.56 332.77 282.41 332.32 282.61 332.09 282.81 331.68 283.01 330.91 283.21 329.59 283.81 322.95 283.91 322.25 284.01 322.03 284.11 322.35 284.21 323.14 284.76 329.36 284.91 330.44 285.11 331.28 285.21 331.48 285.36 331.52 285.61 330.98 285.86 329.66 286.31 326.35 286.41 325.94 286.51 325.86 286.71 326.74 287.16 330.66 287.41 332.23 287.71 333.22 287.91 333.48 288.11 333.55 288.36 333.49 289.01 333.15 289.31 333.10 289.66 333.18 290.71 333.64 291.21 333.65 291.81 333.52 292.16 333.36 292.41 333.14 293.16 331.96 293.41 331.78 293.66 332.00 294.36 333.16 294.66 333.40 295.01 333.52 296.41 333.66 296.86 333.64 298.16 333.05 299.21 332.98 299.86 332.56 300.06 332.50 300.31 332.57 301.11 333.09 301.61 333.33 302.06 333.45 302.46 333.42 303.06 333.11 303.51 332.54 303.86 331.60 304.36 329.63 304.56 329.23 304.66 329.28 304.81 329.66 305.31 331.86 305.56 332.68 305.86 333.23 306.21 333.49 306.76 333.56 308.16 333.50 308.56 333.41 309.41 333.08 310.16 333.22 310.51 333.20 310.96 332.94 311.66 332.02 311.86 331.89 312.06 331.97 312.66 332.80 313.01 333.06 313.36 333.13 314.76 333.14 314.96 333.07 315.16 332.89 315.51 332.17 315.81 330.94 316.26 328.50 316.41 327.99 316.51 327.89 316.61 328.00 316.71 328.32 317.36 331.45 317.56 332.00 317.81 332.32 317.96 332.34 318.16 332.25 318.96 331.42 319.31 331.20 319.66 331.15 320.46 331.22 321.36 331.16 321.66 331.22 321.96 331.38 323.16 332.39 323.71 332.75 324.26 332.93 324.76 332.90 325.16 332.70 325.51 332.26 325.81 331.56 326.26 330.17 326.41 329.90 326.51 329.86 326.71 330.17 327.36 332.11 327.56 332.41 327.81 332.51 328.01 332.41 328.16 332.21 328.46 331.44 329.16 327.76 329.31 327.22 329.41 327.12 329.51 327.26 329.61 327.60 330.16 330.67 330.56 332.10 330.86 332.67 331.31 333.21 331.81 333.63 332.26 333.81 332.81 333.73 333.91 333.20 334.36 333.06 334.76 333.06 335.66 333.34 335.91 333.33 336.11 333.23 336.36 333.01 336.66 332.58 337.56 330.64 337.86 330.25 337.96 330.26 338.11 330.43 338.66 331.69 338.81 331.82 338.91 331.82 339.06 331.66 339.21 331.35 339.81 329.47 339.91 329.31 340.01 329.26 340.11 329.34 340.26 329.67 340.86 331.88 341.21 332.86 341.61 333.44 341.81 333.57 342.06 333.64 342.46 333.59 343.41 333.12 343.86 333.03 344.26 333.14 345.46 333.75 346.01 333.84 346.66 333.80 347.11 333.70 347.51 333.52 348.41 332.76 348.71 332.64 349.01 332.79 349.81 333.57 350.36 333.78 351.61 333.61 352.86 333.68 354.06 333.53 355.41 333.80 355.76 333.71 356.51 333.34 356.81 333.28 357.16 333.38 357.96 333.80 358.31 333.85 358.71 333.75 359.71 333.31 360.46 333.21 361.21 333.37 362.86 334.03 363.61 334.14 364.31 334.01 365.36 333.53 365.81 333.42 366.16 333.46 367.21 333.80 367.56 333.77 368.41 333.46 368.86 333.39 369.41 333.44 370.41 333.69 370.81 333.70 371.21 333.55 372.06 332.92 372.36 332.83 372.71 332.94 373.46 333.51 373.81 333.65 374.16 333.60 375.11 333.22 376.41 333.34 377.71 333.07 378.51 333.04 380.11 333.20 381.86 333.91 382.41 334.00 382.71 333.95 382.96 333.82 384.01 332.78 384.26 332.62 384.46 332.58 384.81 332.72 385.51 333.32 385.91 333.48 386.41 333.43 387.46 332.92 387.96 332.83 388.36 332.94 389.41 333.51 389.76 333.59 390.16 333.59 391.86 333.11 393.31 333.00 393.71 332.78 394.01 332.39 394.31 331.68 394.61 330.51 395.51 324.75 395.66 324.10 395.81 323.81 395.96 323.94 396.11 324.42 396.66 327.31 396.91 328.30 397.16 328.76 397.26 328.77 397.36 328.68 397.51 328.36 397.71 327.59 398.36 323.60 398.51 322.92 398.66 322.61 398.81 322.77 398.96 323.38 399.81 329.31 400.06 330.54 400.36 331.52 400.71 332.18 401.16 332.63 402.41 333.43 403.16 333.70 403.51 333.66 403.86 333.47 405.51 331.72 406.01 331.34 406.41 331.21 406.61 331.25 406.86 331.41 407.86 332.49 408.51 333.01 409.46 333.44 409.81 333.49 410.11 333.45 410.46 333.28 410.86 332.97 411.71 332.09 412.71 330.92 412.96 330.72 413.16 330.66 413.36 330.71 413.56 330.88 414.56 332.35 414.86 332.67 415.16 332.88 415.61 333.02 416.76 333.07 418.31 333.61 419.11 333.62 419.71 333.38 420.21 332.94 420.66 332.27 421.56 330.60 421.81 330.30 422.01 330.23 422.16 330.27 422.36 330.46 423.11 331.77 423.46 332.17 423.76 332.34 424.51 332.57 425.61 333.46 426.16 333.65 426.71 333.56 427.66 333.14 428.06 333.04 428.46 333.08 429.21 333.37 429.56 333.39 429.86 333.27 430.46 332.90 430.91 332.81 432.16 333.00 433.26 333.64 433.66 333.76 434.21 333.70 435.51 333.10 436.11 332.98 436.56 333.05 437.56 333.42 438.21 333.58 439.31 333.74 440.11 333.76 443.51 333.23 444.01 333.00 445.01 332.28 445.46 332.16 445.86 332.24 446.76 332.62 447.96 332.88 449.36 333.50 449.86 333.66 450.51 333.68 451.71 333.26 452.36 333.20 452.91 333.35 453.91 333.97 454.36 334.13 454.86 334.05 456.36 333.34 457.11 333.15 457.46 333.19 458.31 333.49 459.51 333.46 460.66 333.73 461.01 333.70 462.06 333.42 463.26 333.71 463.61 333.61 464.41 333.09 464.71 333.03 465.01 333.14 465.76 333.68 466.06 333.75 466.36 333.65 466.71 333.34 468.06 331.57 468.76 330.82 469.41 330.38 470.06 330.23 470.51 330.33 470.96 330.65 472.11 332.09 472.56 332.52 472.96 332.73 473.96 332.91 474.51 333.14 475.01 333.56 475.86 334.59 476.26 334.82 476.46 334.78 476.66 334.62 477.46 333.51 477.81 333.25 478.16 333.30 478.86 333.77 479.16 333.87 479.46 333.86 480.36 333.65 481.51 333.82 481.96 333.67 483.01 333.04 483.76 332.91 484.51 332.99 485.61 333.40 486.66 333.58 487.71 334.21 488.06 334.32 488.46 334.22 489.46 333.59 489.76 333.52 490.06 333.55 490.56 333.79 491.46 334.60 491.86 334.80 492.06 334.78 492.26 334.68 493.21 333.71 493.71 333.45 494.11 333.45 495.26 333.75 495.91 333.83 498.96 333.40 501.16 333.58 501.71 333.68 502.36 333.95 503.51 334.70 503.81 334.81 504.11 334.84 504.46 334.76 504.76 334.58 505.96 333.28 506.21 333.12 506.46 333.08" stroke="#ED7D31"/>
<path d="M84.51 225.80L85.26 226.92 86.61 228.69 88.21 231.09 88.86 231.81 90.26 233.01 90.91 233.40 94.11 235.01 94.91 235.36 96.01 235.72 100.11 236.82 103.11 237.19 104.51 237.23 105.91 237.57 107.31 237.52 108.61 237.69 109.91 237.60 111.11 237.73 111.71 237.71 112.36 237.59 113.56 237.21 114.66 237.07 115.01 236.93 115.36 236.66 117.16 234.69 117.66 233.61 118.06 232.06 118.36 230.36 118.61 228.40 119.01 223.03 119.31 214.71 119.56 201.85 119.96 162.86 120.61 63.10 120.76 49.94 120.86 47.61 120.96 50.96 121.11 65.34 121.66 151.72 121.96 187.45 122.31 211.36 122.51 218.74 122.76 224.19 123.01 227.30 123.36 229.78 123.81 231.50 124.06 232.04 124.36 232.39 124.66 232.44 124.91 232.24 125.16 231.78 125.36 231.13 125.66 229.29 125.91 226.27 126.21 219.17 126.46 208.73 127.26 150.78 127.41 144.26 127.51 143.07 127.61 144.68 127.76 151.65 128.41 197.82 128.71 208.07 128.81 209.26 128.91 209.53 129.26 207.26 129.31 207.16 129.36 207.27 129.46 208.21 130.16 227.04 130.41 231.45 130.66 233.95 130.91 235.27 131.26 236.22 132.51 238.18 132.81 238.56 133.06 238.76 133.36 238.78 133.61 238.56 134.31 237.06 134.51 236.89 134.76 237.23 135.36 238.71 135.76 239.26 136.16 239.47 137.16 239.66 138.36 240.30 138.81 240.38 139.96 240.32 141.21 240.53 141.81 240.57 142.31 240.53 143.31 240.30 143.71 240.29 144.26 240.43 145.51 240.93 146.11 241.00 147.41 240.51 147.76 240.48 148.56 240.56 148.81 240.50 149.01 240.35 149.26 239.99 149.46 239.49 150.06 237.05 150.21 236.65 150.31 236.59 150.51 237.02 151.16 239.73 151.41 240.28 151.66 240.55 152.11 240.67 153.46 240.61 153.76 240.45 154.36 239.81 154.56 239.72 154.76 239.81 155.46 240.45 155.96 240.79 156.41 240.95 156.76 240.91 157.11 240.72 158.41 239.72 158.66 239.38 158.86 238.81 159.16 237.01 159.71 230.61 159.81 229.82 159.91 229.56 160.01 229.89 160.11 230.73 160.66 237.05 161.01 239.06 161.31 239.76 161.51 240.00 161.76 240.16 162.01 240.20 162.26 240.16 162.96 239.79 163.66 239.25 164.01 238.75 164.26 237.99 164.46 236.76 164.76 232.84 165.31 219.09 165.41 217.43 165.51 216.92 165.61 217.71 165.71 219.60 166.21 232.61 166.56 237.41 166.81 238.83 167.16 239.66 167.41 239.94 167.71 240.12 168.01 240.17 168.31 240.08 168.66 239.79 169.46 238.91 170.16 238.30 170.41 237.77 170.61 236.80 170.81 234.88 170.96 232.55 171.51 218.62 171.61 216.91 171.71 216.35 171.81 217.09 171.91 218.92 172.46 232.62 172.61 234.83 172.81 236.60 173.01 237.38 173.11 237.50 173.21 237.48 173.41 237.10 173.86 235.51 174.01 235.38 174.21 235.91 174.81 238.62 175.11 239.31 175.41 239.58 175.66 239.53 175.86 239.17 176.16 237.65 176.41 235.00 176.81 229.15 176.91 228.18 177.01 227.81 177.11 228.13 177.21 229.02 177.61 234.32 177.91 236.95 178.11 237.78 178.31 238.11 178.46 238.10 178.56 237.99 178.76 237.42 178.96 236.13 179.16 233.76 179.71 222.40 179.81 221.02 179.91 220.61 180.01 221.28 180.11 222.86 180.61 233.72 180.91 237.32 181.11 238.48 181.36 239.20 181.76 239.71 182.31 240.03 182.61 240.09 182.91 240.05 183.16 239.91 183.36 239.70 183.66 239.11 184.21 237.49 184.31 237.33 184.41 237.29 184.61 237.62 185.31 239.80 185.61 240.27 185.96 240.53 186.36 240.60 186.76 240.50 187.81 239.87 188.81 239.51 189.41 238.99 189.61 238.91 189.81 239.07 190.36 240.18 190.71 240.61 191.11 240.72 191.66 240.52 191.96 240.27 192.16 240.01 192.51 239.09 192.81 237.50 193.31 233.67 193.41 233.21 193.51 233.05 193.61 233.23 193.71 233.70 194.16 237.06 194.41 238.47 194.71 239.45 195.11 240.02 195.56 240.25 196.06 240.21 196.46 239.95 197.11 239.23 197.31 239.16 197.56 239.34 198.51 240.53 198.91 240.86 199.26 241.03 199.71 241.04 200.56 240.64 200.86 240.56 201.86 240.78 202.26 240.75 202.71 240.49 203.11 240.10 203.41 239.62 203.61 239.10 203.96 237.35 204.51 232.83 204.61 232.35 204.71 232.23 204.91 233.12 205.51 238.34 205.76 239.55 206.01 240.13 206.16 240.27 206.36 240.31 207.16 239.95 207.51 239.89 208.61 240.26 209.11 240.31 209.86 240.20 210.81 239.94 211.16 239.73 211.41 239.42 211.61 238.90 211.81 237.94 212.11 235.28 212.61 228.57 212.71 227.75 212.81 227.49 212.91 227.84 213.01 228.71 213.46 234.72 213.76 237.42 213.91 238.17 214.11 238.71 214.31 238.90 214.61 238.86 215.01 238.50 215.26 238.01 215.46 237.26 215.61 236.33 215.91 233.09 216.41 224.90 216.51 223.90 216.61 223.60 216.71 224.04 216.81 225.15 217.36 234.03 217.51 235.63 217.71 236.94 217.86 237.42 217.96 237.54 218.06 237.54 218.21 237.36 218.66 236.42 218.76 236.37 218.86 236.47 219.06 237.05 219.66 239.47 219.86 239.98 220.11 240.37 220.36 240.50 220.61 240.43 221.51 239.60 222.21 239.19 222.51 238.72 223.01 237.31 223.21 237.02 223.31 237.06 223.41 237.21 224.01 238.63 224.36 239.03 224.71 239.20 225.06 239.22 225.31 239.08 225.51 238.77 225.81 237.66 226.06 235.71 226.71 226.39 226.81 225.47 226.91 225.15 227.01 225.50 227.11 226.44 227.71 234.70 228.06 237.07 228.31 237.71 228.46 237.86 228.66 237.92 228.96 237.85 229.31 237.67 229.71 237.40 230.01 237.09 230.41 236.41 230.76 235.37 231.11 233.67 231.36 231.82 231.71 227.27 232.01 219.37 232.26 207.46 232.46 193.09 233.16 121.25 233.31 112.73 233.36 111.35 233.41 110.67 233.46 110.63 233.61 113.25 233.91 121.60 234.21 127.29 234.36 132.08 234.56 144.14 235.31 205.87 235.66 220.96 235.86 225.59 236.06 228.29 236.26 229.67 236.41 230.04 236.51 229.98 236.71 228.97 236.91 226.35 237.16 219.94 237.61 202.04 237.76 198.45 237.81 198.07 237.91 198.61 238.31 207.41 238.41 208.04 238.51 207.21 238.76 198.07 239.16 173.32 239.26 170.59 239.31 170.48 239.51 178.26 240.11 219.84 240.36 228.28 240.66 232.74 240.91 234.08 241.06 234.28 241.21 234.08 241.46 232.66 241.66 230.20 242.01 221.89 242.56 201.47 242.71 198.10 242.81 197.56 242.91 198.53 243.06 202.44 243.71 226.47 243.91 231.01 244.16 234.44 244.36 235.90 244.61 236.74 244.81 236.91 245.26 236.72 245.41 236.79 245.61 237.15 246.21 238.69 246.46 239.05 246.81 239.31 249.41 239.91 249.81 239.88 250.16 239.67 250.46 239.24 250.76 238.45 251.46 235.07 251.66 234.59 251.76 234.69 251.86 235.01 252.51 238.48 252.71 238.90 252.86 238.82 253.06 238.10 253.21 237.07 253.81 230.18 253.91 229.42 254.01 229.14 254.11 229.39 254.21 230.10 254.81 236.60 255.01 237.91 255.26 238.82 255.41 239.10 255.61 239.26 255.81 239.24 255.96 239.10 256.26 238.49 256.71 237.08 256.91 236.79 257.01 236.83 257.11 236.99 257.71 238.41 257.91 238.58 258.06 238.56 258.31 238.14 258.56 237.03 259.21 231.03 259.36 230.24 259.41 230.18 259.46 230.23 259.56 230.65 260.16 235.42 260.31 235.83 260.41 235.78 260.46 235.67 260.76 233.66 261.21 228.43 261.31 227.75 261.41 227.58 261.61 228.88 262.06 234.77 262.31 237.08 262.61 238.50 262.76 238.84 262.96 239.08 264.06 239.70 264.26 239.76 264.46 239.73 264.76 239.40 265.31 238.01 265.41 237.85 265.51 237.82 265.71 238.14 266.16 239.45 266.46 239.95 266.71 240.08 267.26 240.14 268.16 240.48 268.51 240.51 268.86 240.33 269.16 239.96 269.86 238.21 270.01 237.96 270.11 237.92 270.26 238.07 270.66 239.01 270.86 239.32 270.96 239.38 271.11 239.36 271.56 238.81 271.76 238.78 272.46 240.01 272.66 240.24 272.91 240.38 273.36 240.40 274.71 240.18 276.06 240.28 276.61 240.18 277.01 239.93 277.31 239.55 277.56 238.91 277.76 237.97 278.11 234.83 278.61 227.97 278.71 227.15 278.81 226.90 278.91 227.27 279.01 228.18 279.61 236.17 279.91 238.38 280.16 239.29 280.46 239.78 280.91 240.04 281.46 240.00 282.01 239.69 282.41 239.26 282.71 238.60 282.91 237.79 283.26 234.99 283.81 227.67 283.91 226.89 284.01 226.68 284.21 228.09 284.81 236.42 285.01 238.03 285.21 238.85 285.31 239.00 285.41 238.99 285.66 238.27 286.31 233.27 286.41 232.74 286.51 232.55 286.61 232.72 286.71 233.22 287.26 237.46 287.61 239.06 287.91 239.76 288.36 240.42 288.86 240.94 289.26 241.11 289.71 240.96 290.91 239.94 292.21 239.24 292.61 238.70 293.21 237.43 293.41 237.29 293.66 237.59 294.26 239.05 294.66 239.70 295.31 240.28 296.36 240.90 296.71 240.94 297.01 240.84 297.91 239.97 298.26 239.79 298.51 239.84 299.06 240.18 299.31 240.24 299.56 240.17 300.11 239.77 300.66 239.76 301.11 239.89 302.21 240.49 302.51 240.54 302.81 240.50 303.26 240.21 303.61 239.61 303.91 238.66 304.36 236.73 304.51 236.32 304.61 236.25 304.81 236.60 305.31 238.66 305.56 239.43 305.86 239.96 306.26 240.27 306.86 240.48 307.41 240.50 307.86 240.35 308.81 239.85 309.21 239.77 309.51 239.86 310.26 240.43 310.51 240.51 310.71 240.50 311.06 240.30 311.71 239.38 311.96 239.25 312.16 239.41 312.76 240.32 313.16 240.78 313.61 241.07 314.06 241.11 314.41 240.96 314.81 240.63 315.11 240.24 315.36 239.74 315.71 238.56 316.31 235.50 316.41 235.22 316.51 235.13 316.71 235.58 317.36 238.75 317.56 239.32 317.81 239.68 318.06 239.75 318.36 239.60 320.11 237.77 320.66 237.41 321.06 237.34 321.41 237.49 321.71 237.79 322.66 239.45 323.01 239.94 323.31 240.16 323.66 240.25 324.96 240.20 325.16 240.14 325.36 239.97 325.71 239.28 326.26 237.33 326.41 236.96 326.51 236.86 326.61 236.90 326.76 237.19 327.21 238.58 327.51 239.25 327.66 239.45 327.86 239.59 328.01 239.59 328.16 239.50 328.36 239.18 328.56 238.61 329.16 235.64 329.31 235.15 329.41 235.08 329.61 235.58 330.26 238.93 330.46 239.52 330.66 239.86 330.86 240.03 331.06 240.09 332.21 240.02 332.86 240.10 333.36 240.29 334.21 240.79 334.56 240.89 334.91 240.84 335.31 240.60 336.61 239.33 337.06 238.53 337.76 236.65 337.91 236.41 338.01 236.36 338.21 236.51 338.71 237.49 338.96 237.71 339.11 237.66 339.26 237.50 339.81 236.46 339.91 236.39 340.01 236.43 340.26 236.95 340.81 238.97 341.11 239.79 341.46 240.31 341.66 240.45 341.91 240.51 344.86 240.12 345.36 240.18 346.41 240.50 347.01 240.51 347.61 240.28 348.41 239.56 348.71 239.42 348.96 239.51 349.61 240.12 349.96 240.34 350.36 240.41 351.11 240.25 351.46 240.27 351.76 240.43 352.46 241.06 352.76 241.19 352.91 241.17 353.11 241.04 353.91 240.06 354.11 239.89 354.31 239.83 354.61 239.94 355.31 240.53 355.61 240.66 355.91 240.62 356.56 240.33 356.86 240.28 357.21 240.38 357.91 240.77 358.21 240.84 358.56 240.80 359.31 240.55 359.66 240.51 361.36 240.80 363.16 240.64 364.11 240.92 364.41 240.95 364.76 240.84 365.56 240.26 365.91 240.15 366.21 240.24 366.96 240.78 367.31 240.92 367.71 240.86 368.51 240.52 368.96 240.48 369.46 240.58 370.81 241.06 371.21 241.08 372.31 240.93 373.16 241.23 373.46 241.28 373.71 241.21 373.91 241.07 374.91 239.92 375.11 239.80 375.36 239.76 375.81 239.91 376.81 240.63 377.31 240.86 377.76 240.83 378.76 240.25 379.26 240.14 379.81 240.28 381.16 240.96 381.76 241.07 382.21 240.98 382.66 240.76 383.06 240.44 383.96 239.51 384.21 239.35 384.41 239.29 384.81 239.45 385.76 240.33 386.31 240.56 387.01 240.58 388.91 240.37 390.31 240.46 390.71 240.35 391.51 239.87 391.86 239.74 392.16 239.74 392.86 239.93 393.21 239.90 393.56 239.63 393.86 239.17 394.21 238.29 394.56 236.89 395.46 231.08 395.61 230.36 395.76 230.03 395.81 230.01 395.91 230.14 396.06 230.67 396.86 235.36 397.11 236.00 397.21 236.05 397.31 235.99 397.46 235.68 397.66 234.89 398.36 230.33 398.51 229.63 398.66 229.35 398.81 229.55 399.01 230.52 399.86 236.87 400.11 238.07 400.41 238.98 400.71 239.47 401.06 239.74 403.31 240.30 403.76 240.26 404.26 239.98 404.81 239.45 405.96 238.11 406.21 237.92 406.46 237.86 406.86 238.07 407.71 239.06 408.21 239.50 409.46 240.41 409.76 240.53 410.01 240.52 410.21 240.41 410.46 240.15 411.46 238.72 412.41 237.93 413.16 237.02 413.51 236.85 413.71 236.92 413.96 237.16 415.21 239.38 415.56 239.81 415.91 240.08 416.26 240.24 416.61 240.31 417.81 240.29 418.96 240.48 419.46 240.46 419.96 240.21 420.36 239.75 420.76 238.99 421.66 236.85 421.91 236.47 422.16 236.35 422.41 236.50 422.66 236.88 423.66 239.20 424.16 240.09 424.71 240.65 425.01 240.78 425.36 240.84 426.01 240.81 426.56 240.68 426.96 240.49 427.71 239.97 428.06 239.86 428.41 239.97 429.16 240.66 429.36 240.74 429.51 240.72 429.81 240.44 430.51 239.26 430.71 239.06 430.86 239.01 431.06 239.07 431.26 239.25 432.11 240.38 432.51 240.62 432.81 240.63 433.61 240.50 434.81 240.63 436.01 240.21 436.46 240.16 437.11 240.31 438.31 240.84 438.81 240.90 439.26 240.77 440.36 240.22 440.91 240.06 441.41 240.06 442.51 240.31 443.11 240.24 444.21 239.76 445.66 238.93 446.16 238.80 446.66 238.96 447.76 239.89 448.26 240.16 448.86 240.25 449.91 240.10 450.31 240.10 450.71 240.21 451.51 240.58 451.86 240.66 452.96 240.58 454.21 240.67 454.56 240.55 455.56 240.02 456.21 239.94 457.36 240.06 458.66 240.70 459.36 240.88 459.86 240.87 461.11 240.69 461.81 240.65 463.36 240.81 464.56 240.82 465.76 240.92 466.26 240.78 466.81 240.38 467.31 239.85 468.41 238.47 468.86 238.05 470.21 237.28 470.66 237.14 470.96 237.21 471.26 237.45 472.41 239.31 472.91 239.81 473.26 239.97 474.06 240.16 475.31 240.58 476.36 240.79 476.96 240.83 477.46 240.78 478.61 240.33 479.01 240.26 480.36 240.63 481.76 240.48 483.01 240.66 483.46 240.67 483.96 240.55 484.91 239.97 485.31 239.87 485.81 240.06 487.01 241.01 487.61 241.24 488.11 241.21 489.01 240.82 489.36 240.75 489.66 240.79 490.41 241.06 490.76 241.08 491.11 240.93 491.91 240.43 492.31 240.33 492.86 240.45 493.96 241.09 494.41 241.21 494.81 241.08 495.56 240.46 495.91 240.27 496.21 240.25 496.96 240.46 497.26 240.47 497.56 240.36 498.26 239.95 498.56 239.87 498.96 240.02 499.96 240.93 500.56 241.22 501.11 241.18 501.96 240.80 502.31 240.71 502.61 240.75 503.31 241.00 503.66 241.00 503.96 240.83 504.66 240.23 504.96 240.12 505.16 240.16 505.36 240.29 506.11 241.08 506.46 241.32" stroke="#FFC000"/>
</g>
<rect x="62.25" y="10.95" width="481.3" height="371.5" fill="none" stroke="#000" stroke-width="2.7"/>
<g class="t" font-size="15.4" text-anchor="end"><text transform="translate(49.3 387.70) scale(0.965 1)">0</text><text transform="translate(49.3 341.19) scale(0.965 1)">5000</text><text transform="translate(49.3 294.68) scale(0.965 1)">10000</text><text transform="translate(49.3 248.17) scale(0.965 1)">15000</text><text transform="translate(49.3 201.66) scale(0.965 1)">20000</text><text transform="translate(49.3 155.15) scale(0.965 1)">25000</text><text transform="translate(49.3 108.64) scale(0.965 1)">30000</text><text transform="translate(49.3 62.13) scale(0.965 1)">35000</text><text transform="translate(49.3 15.62) scale(0.965 1)">40000</text></g>
<g class="t" font-size="15.4" text-anchor="middle"><text transform="translate(62.30 404.8) scale(0.975 1)">0</text><text transform="translate(136.33 404.8) scale(0.975 1)">10</text><text transform="translate(210.36 404.8) scale(0.975 1)">20</text><text transform="translate(284.39 404.8) scale(0.975 1)">30</text><text transform="translate(358.42 404.8) scale(0.975 1)">40</text><text transform="translate(432.45 404.8) scale(0.975 1)">50</text><text transform="translate(506.48 404.8) scale(0.975 1)">60</text></g>
<text class="t" x="278.8" y="430.6" font-size="17.3" textLength="86" lengthAdjust="spacingAndGlyphs">Angle (2θ)</text>
<g class="t" font-size="18">
<text x="486" y="232.8">d</text>
<text x="486" y="278.1">c</text>
<text x="486" y="329.8">b</text>
<text x="486" y="368.6">a</text>
</g>
</svg>
</body></html>
